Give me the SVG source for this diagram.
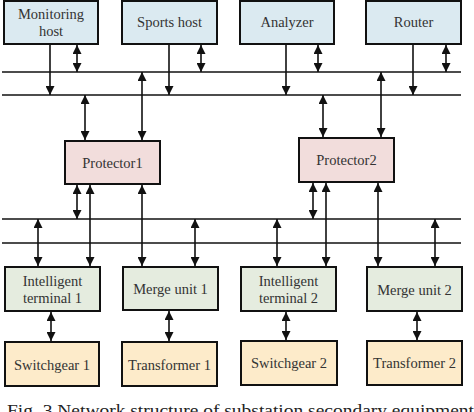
<svg xmlns="http://www.w3.org/2000/svg" width="474" height="412" viewBox="0 0 474 412">
<style>
.box{stroke:#111;stroke-width:2}
.top{fill:#dbeaf1}
.prot{fill:#f2dddc}
.mid{fill:#e5ecdf}
.bot{fill:#fdebca}
.lbl{font-family:"Liberation Serif","Times New Roman",serif;font-size:14.5px;fill:#333;text-anchor:middle}
.bus{stroke:#111;stroke-width:1.6;fill:none}
.c{stroke:#111;stroke-width:1.6;fill:none}
.one{marker-end:url(#ah)}
.two{marker-start:url(#ah);marker-end:url(#ah)}
.cap{font-family:"Liberation Serif","Times New Roman",serif;font-size:17px;fill:#222}
</style>
<defs>
<marker id="ah" viewBox="0 0 10 10" refX="10" refY="5" markerUnits="userSpaceOnUse" markerWidth="11" markerHeight="9" orient="auto-start-reverse">
<path d="M0,0 L10,5 L0,10 z" fill="#111"/>
</marker>
</defs>
<rect width="474" height="412" fill="#fff"/>
<g id="buses">
<line class="bus" x1="2" y1="72" x2="461" y2="72"/>
<line class="bus" x1="2" y1="95" x2="461" y2="95"/>
<line class="bus" x1="2" y1="219" x2="461" y2="219"/>
<line class="bus" x1="2" y1="243" x2="461" y2="243"/>
</g>
<g id="connectors">
<line class="c one" x1="50" y1="45" x2="50" y2="95"/>
<line class="c two" x1="77" y1="45" x2="77" y2="72"/>
<line class="c one" x1="169" y1="45" x2="169" y2="95"/>
<line class="c two" x1="201" y1="45" x2="201" y2="72"/>
<line class="c one" x1="286" y1="45" x2="286" y2="95"/>
<line class="c two" x1="318" y1="45" x2="318" y2="72"/>
<line class="c one" x1="413" y1="45" x2="413" y2="95"/>
<line class="c two" x1="446" y1="45" x2="446" y2="72"/>
<line class="c two" x1="85" y1="95" x2="85" y2="140"/>
<line class="c two" x1="142" y1="72" x2="142" y2="140"/>
<line class="c two" x1="323" y1="95" x2="323" y2="137"/>
<line class="c two" x1="381" y1="72" x2="381" y2="137"/>
<line class="c two" x1="77" y1="185" x2="77" y2="219"/>
<line class="c two" x1="90" y1="185" x2="90" y2="266"/>
<line class="c two" x1="142" y1="185" x2="142" y2="266"/>
<line class="c two" x1="313" y1="183" x2="313" y2="219"/>
<line class="c two" x1="326" y1="183" x2="326" y2="266"/>
<line class="c two" x1="378" y1="183" x2="378" y2="266"/>
<line class="c two" x1="38" y1="219" x2="38" y2="266"/>
<line class="c two" x1="195" y1="219" x2="195" y2="266"/>
<line class="c two" x1="277" y1="219" x2="277" y2="266"/>
<line class="c two" x1="435" y1="219" x2="435" y2="266"/>
<line class="c two" x1="51" y1="312" x2="51" y2="341"/>
<line class="c two" x1="169" y1="311" x2="169" y2="341"/>
<line class="c two" x1="286" y1="312" x2="286" y2="340"/>
<line class="c two" x1="417" y1="312" x2="417" y2="340"/>
</g>
<g id="monitoring-host"><rect class="box top" x="4" y="1" width="94" height="43"/><text class="lbl" x="51" y="19">Monitoring</text><text class="lbl" x="51" y="36">host</text></g>
<g id="sports-host"><rect class="box top" x="122" y="1" width="95" height="43"/><text class="lbl" x="169.5" y="27">Sports host</text></g>
<g id="analyzer"><rect class="box top" x="240" y="1" width="94" height="43"/><text class="lbl" x="287" y="27">Analyzer</text></g>
<g id="router"><rect class="box top" x="366" y="1" width="95" height="43"/><text class="lbl" x="413.5" y="27">Router</text></g>
<g id="protector1"><rect class="box prot" x="65" y="141" width="95" height="43"/><text class="lbl" x="112.5" y="168">Protector1</text></g>
<g id="protector2"><rect class="box prot" x="299" y="138" width="95" height="44"/><text class="lbl" x="346.5" y="165">Protector2</text></g>
<g id="intelligent-terminal-1"><rect class="box mid" x="5" y="267" width="95" height="44"/><text class="lbl" x="52.5" y="286">Intelligent</text><text class="lbl" x="52.5" y="303">terminal 1</text></g>
<g id="merge-unit-1"><rect class="box mid" x="123" y="267" width="95" height="43"/><text class="lbl" x="170.5" y="294">Merge unit 1</text></g>
<g id="intelligent-terminal-2"><rect class="box mid" x="241" y="267" width="95" height="44"/><text class="lbl" x="288.5" y="286">Intelligent</text><text class="lbl" x="288.5" y="303">terminal 2</text></g>
<g id="merge-unit-2"><rect class="box mid" x="367" y="267" width="95" height="44"/><text class="lbl" x="414.5" y="295">Merge unit 2</text></g>
<g id="switchgear-1"><rect class="box bot" x="5" y="342" width="94" height="44"/><text class="lbl" x="52" y="370">Switchgear 1</text></g>
<g id="transformer-1"><rect class="box bot" x="122" y="342" width="95" height="44"/><text class="lbl" x="169.5" y="370">Transformer 1</text></g>
<g id="switchgear-2"><rect class="box bot" x="241" y="341" width="96" height="44"/><text class="lbl" x="289" y="368">Switchgear 2</text></g>
<g id="transformer-2"><rect class="box bot" x="367" y="341" width="95" height="44"/><text class="lbl" x="414.5" y="368">Transformer 2</text></g>
<text class="cap" x="7" y="416" textLength="467" lengthAdjust="spacingAndGlyphs">Fig. 3 Network structure of substation secondary equipment</text>
</svg>
